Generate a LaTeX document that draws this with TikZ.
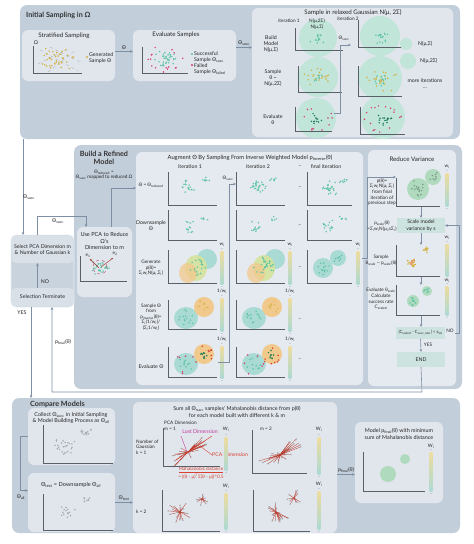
\documentclass[tikz,border=0pt]{standalone}
\usepackage{fontspec}
\setmainfont{Lato}
\usetikzlibrary{fit,calc,arrows.meta}
\definecolor{panelC}{HTML}{C3CEDB}
\definecolor{innerC}{HTML}{E1E6ED}
\definecolor{inner2C}{HTML}{E5EAF0}
\definecolor{connC}{HTML}{7F8FA3}
\definecolor{axisC}{HTML}{5A6068}
\definecolor{gaussC}{HTML}{C2E5DA}
\definecolor{ydotC}{HTML}{D2B23E}
\definecolor{tdotC}{HTML}{5EC4A5}
\definecolor{pdotC}{HTML}{D63C72}
\definecolor{gdotC}{HTML}{1E7E57}
\definecolor{greyC}{HTML}{A7ABB1}
\definecolor{redC}{HTML}{D8412F}
\definecolor{orC}{HTML}{F2C98C}
\definecolor{ygC}{HTML}{D6E39C}
\definecolor{teC}{HTML}{A9DAD3}
\definecolor{scaleC}{HTML}{CDE3E0}
\definecolor{barY}{HTML}{EEDC9E}
\definecolor{barT}{HTML}{ADD9D2}
\definecolor{greenC}{HTML}{AFDABE}
\definecolor{magC}{HTML}{C0379A}
\definecolor{selC}{HTML}{D9E0E8}
\definecolor{selOuter}{HTML}{C9D3DE}
\newcommand{\sbs}[1]{\textsubscript{#1}}
% cx cy sx sy n color
\newcommand{\dotcloud}[6]{\foreach \k in {1,...,#5}{\fill[#6] ({#1+#3*(rand+rand)/2},{#2+#4*(rand+rand)/2}) circle (0.85pt);}}
\newcommand{\dotring}[6]{\foreach \k in {1,...,#5}{\pgfmathsetmacro\ang{360*rnd}\pgfmathsetmacro\rr{0.65+0.35*rnd}\fill[#6] ({#1+#3*\rr*cos(\ang)},{#2+#4*\rr*sin(\ang)}) circle (0.85pt);}}
% cx cy n L W angle
\newcommand{\dotburst}[6]{\foreach \k in {1,...,#3}{\pgfmathsetmacro\uu{#4*rand}\pgfmathsetmacro\vv{#5*rand}\pgfmathsetmacro\qx{#1+\uu*cos(#6)-\vv*sin(#6)}\pgfmathsetmacro\qy{#2-\uu*sin(#6)-\vv*cos(#6)}\draw[redl] (#1,#2) -- (\qx,\qy); \fill[greyC] (\qx,\qy) circle (0.75pt);}}
\newcommand{\wbar}[3]{\shade[top color=barY,bottom color=barT] ({#1-1.4},#2) rectangle ({#1+1.4},#3); \fill[black!55] (#1,{#2-2.5}) circle (0.35pt); \fill[black!55] (#1,{#3+2.5}) circle (0.35pt);}
\tikzset{
 panel/.style={fill=panelC, rounded corners=7pt, inner sep=0pt, outer sep=0pt},
 ibox/.style={fill=innerC, rounded corners=6pt, inner sep=0pt, outer sep=0pt},
 ibox2/.style={fill=inner2C, rounded corners=6pt, inner sep=0pt, outer sep=0pt},
 sbox/.style={fill=scaleC, inner sep=0pt, outer sep=0pt},
 axisL/.style={draw=axisC, line width=0.5pt},
 conn/.style={draw=connC, line width=0.6pt, -{Stealth[length=3pt,width=2.6pt]}},
 tx/.style={font=\fontsize{5.2}{6.1}\selectfont, align=center, inner sep=0pt, text=black!85},
 txs/.style={font=\fontsize{4.7}{5.6}\selectfont, align=center, inner sep=0pt, text=black!85},
 bt/.style={font=\fontsize{6.2}{7.2}\selectfont, align=center, inner sep=0pt, text=black!85},
 ptitle/.style={font=\fontsize{7.2}{8.4}\selectfont\bfseries, align=center, inner sep=0pt, text=black!80},
 redl/.style={draw=redC!85!black, line width=0.3pt},
}
\begin{document}
\begin{tikzpicture}[x=1pt,y=-1pt]
\pgfmathsetseed{42}
\useasboundingbox (0,0) rectangle (474,544);
\fill[white] (0,0) rectangle (474,544);

% ================= TOP PANEL =================
\node[panel, fit={(20,5) (460,139)}] (P1) {};
\node[ptitle, anchor=west] (P1t) at (26,15) {Initial Sampling in Ω};
% Stratified
\node[ibox, fit={(22,30) (115,81)}] (A) {};
\node[bt] (At) at (64,36) {Stratified Sampling};
\node[tx] (Aom) at (36,43) {Ω};
\draw[dashed, greyC, line width=0.3pt] (40,50) -- (78,71) (50,47) -- (80,62) (38,64) -- (70,48) (48,72) -- (76,50);
\dotcloud{57}{59}{18}{12}{40}{ydotC}
\draw[axisL] (33,46) -- (33,73) -- (82,73);
\fill[ydotC] (87,57) circle (1.1pt);
\node[tx, anchor=west, align=left] (Al) at (89,58) {Generated\\Sample Θ};
% Evaluate
\node[ibox, fit={(133,30) (236,81)}] (B) {};
\node[bt] (Bt) at (176,35) {Evaluate Samples};
\dotcloud{166}{59}{12}{9}{35}{tdotC}
\dotring{164}{59}{20}{13}{16}{pdotC}
\draw[axisL] (142,47) -- (142,73) -- (188,73);
\fill[tdotC] (192,54) circle (1.1pt);
\node[tx, anchor=west, align=left] (Bl1) at (194,57) {Successful\\Sample Θ\sbs{succ}};
\fill[pdotC] (192,65) circle (1.1pt);
\node[tx, anchor=west, align=left] (Bl2) at (194,69) {Failed\\Sample Θ\sbs{failed}};
\draw[conn] ([yshift=4pt]A.east) -- ([yshift=4pt]A.east -| B.west) node[tx, midway, above=1.5pt] (lTh) {Θ};
% Relaxed Gaussian
\node[ibox, fit={(252,8) (453,137)}] (C) {};
\draw[conn] ([yshift=8pt]B.east) -- ([yshift=8pt]B.east -| C.west) node[tx, midway, above=1.5pt] (lTs) {Θ\sbs{succ}};
\node[bt] (Ct) at (353,13) {Sample in relaxed Gaussian N(μ, 2Σ)};
\fill[gaussC] (318,38) circle (19pt);
\fill[gaussC] (318,77) circle (20pt);
\fill[gaussC] (316,118) circle (20pt);
\fill[gaussC] (380,36) circle (20pt);
\fill[gaussC] (380,78) circle (22pt);
\fill[gaussC] (383,117) circle (22pt);
\node[txs] (Ci1) at (289,21) {iteration 1};
\node[txs] (Cn) at (317,24) {N(μ,2Σ)\\N(μ,Σ)};
\node[txs] (Ci2) at (348,19) {iteration 2};
\node[tx] (Cr1) at (271,44) {Build\\Model\\N(μ,Σ)};
\node[tx] (Cr2) at (273,78) {Sample\\θ \textasciitilde\\N(μ,2Σ)};
\node[tx] (Cr3) at (273,120) {Evaluate\\θ};
\dotcloud{318}{38}{9}{6}{14}{tdotC}
\dotcloud{318}{78}{15}{12}{20}{ydotC}
\dotcloud{318}{78}{7}{6}{8}{tdotC}
\dotcloud{316}{119}{8}{7}{12}{gdotC}
\dotring{316}{119}{17}{13}{12}{pdotC}
\dotcloud{381}{37}{10}{7}{16}{tdotC}
\dotcloud{380}{79}{17}{13}{24}{ydotC}
\dotcloud{380}{80}{9}{7}{12}{tdotC}
\dotcloud{383}{119}{10}{8}{16}{gdotC}
\dotring{383}{119}{20}{15}{16}{pdotC}
\draw[axisL] (295,28) -- (295,50) -- (343,50);
\draw[axisL] (298,66) -- (298,92) -- (342,92);
\draw[axisL] (295,107) -- (295,131) -- (332,131);
\draw[axisL] (358,20) -- (358,47) -- (402,47);
\draw[axisL] (358,66) -- (358,96) -- (402,96);
\draw[axisL] (360,107) -- (360,134) -- (405,134);
\coordinate (cs1) at (334,113);
\coordinate (cs2) at (351,45);
\draw[conn] (cs1) -| (340,45) -- (cs2);
\node[txs] (lCs) at (344,38) {Θ\sbs{succ}};
\fill[gaussC] (406,44) circle (6pt);
\node[tx, anchor=west] (Lg1) at (418,44) {N(μ,Σ)};
\fill[gaussC] (408,61) circle (8pt);
\node[tx, anchor=west] (Lg2) at (420,61) {N(μ,2Σ)};
\node[tx] (Lg3) at (425,84) {more iterations\\...};

% ================= MIDDLE PANEL =================
\node[panel, fit={(74,145) (462,389)}] (P2) {};
\node[ptitle] (P2t) at (104,158) {Build a Refined\\Model};
\node[txs] (P2s) at (104,175) {Θ\sbs{reduced} =\\Θ\sbs{succ} mapped to reduced Ω};
\node[ibox2, fit={(136,152) (363,385)}] (Aug) {};
\node[ibox2, fit={(368,150) (456,386)}] (Red) {};
\node[bt, font=\fontsize{5.8}{6.8}\selectfont] (Augt) at (250,158) {Augment Θ By Sampling From Inverse Weighted Model p\sbs{inverse}(θ)};

% Select box
\node[fill=selOuter, draw=white!70!panelC, line width=0.8pt, rounded corners=5pt, inner sep=0pt, outer sep=0pt, fit={(11,235) (74,307)}] (Sel) {};
\node[fill=selC, rounded corners=4pt, inner sep=0pt, outer sep=0pt, fit={(11.5,235.5) (73.5,263)}] (Sel1) {};
\node[tx] (Sel1t) at (Sel1.center) {Select PCA Dimension m\\\& Number of Gaussian k};
\node[fill=selC, rounded corners=4pt, inner sep=0pt, outer sep=0pt, fit={(11.5,288) (73.5,306)}] (Sel2) {};
\node[tx] (Sel2t) at (Sel2.center) {Selection Terminate};
\draw[conn] ([xshift=-5pt]Sel2.north) -- ([xshift=-5pt]Sel1.south);
\node[tx] (lNO) at (45,282) {NO};

% PCA box
\node[ibox, fit={(77,227) (132,297)}] (PCA) {};
\node[bt, font=\fontsize{5.6}{6.6}\selectfont] (PCAt) at (104.5,241) {Use PCA to Reduce\\Ω's\\Dimension to m};
\dotcloud{101}{268}{11}{7}{26}{tdotC}
\draw[pdotC!80!black, line width=0.35pt, dashed] (100,267) circle (7pt);
\draw[-{Stealth[length=2pt]}, redC!70!black, line width=0.45pt] (99,268) -- (90,259);
\draw[-{Stealth[length=2pt]}, redC!70!black, line width=0.45pt] (101,267) -- (113,258);
\node[txs] (e1) at (88,256) {e\sbs{1}};
\node[txs] (e2) at (115,254) {e\sbs{2}};
\draw[axisL] (80,256) -- (80,281) -- (127,281);

% connectors on the left
\coordinate (c1) at (23,139);
\draw[conn] (c1) -- (c1 |- Sel.north);
\node[tx] (lS1) at (29,197) {Θ\sbs{succ}};
\coordinate (c2) at (86,216);
\draw[conn] ([xshift=-5pt]Sel.north) |- (c2) -- (c2 |- PCA.north);
\node[tx] (lS2) at (58,221) {Θ\sbs{succ}};
\coordinate (g1) at (136,188);
\draw[conn] ([xshift=7pt]PCA.north) |- (g1);

% Augment internals
\node[tx] (H1) at (190,167) {iteration 1};
\node[tx] (H2) at (258,167) {iteration 2};
\node[tx] (H3) at (300,167) {–};
\node[tx] (H4) at (326,167) {final iteration};
\node[txs] (R1) at (151,185) {Θ = Θ\sbs{reduced}};
\node[tx] (R2) at (151,226) {Downsample\\Θ};
\node[txs] (R3) at (151,268) {Generate\\p(θ)=\\Σ\sbs{i}w\sbs{i}N(μ\sbs{i},Σ\sbs{i})};
\node[txs] (R4) at (151,317) {Sample Θ\\from\\p\sbs{inverse}(θ)=\\Σ\sbs{i}(1/w\sbs{i})/\\(Σ\sbs{i}1/w\sbs{i})};
\node[tx] (R5) at (151,367) {Evaluate Θ};
\foreach \o/\nn in {0/18,68/28}{
 \dotcloud{190+\o}{187}{9}{8}{\nn}{tdotC}
 \dotcloud{206+\o}{179}{5}{3}{7}{tdotC}
 \dotcloud{188+\o}{227}{7}{7}{12}{tdotC}
 \dotcloud{205+\o}{219}{4}{3}{5}{tdotC}
 \fill[teC] ({207+\o},259) ellipse (10pt and 10pt);
 \fill[ygC, opacity=0.9] ({196+\o},268) ellipse (11pt and 13pt);
 \fill[orC, opacity=0.75] ({188+\o},273) ellipse (9pt and 10pt);
 \dotcloud{197+\o}{267}{12}{12}{\nn}{tdotC}
 \fill[teC] ({186+\o},318) ellipse (12pt and 11pt);
 \fill[orC] ({204+\o},307) ellipse (10pt and 10pt);
 \dotcloud{186+\o}{318}{10}{9}{14}{tdotC}
 \dotcloud{204+\o}{307}{8}{8}{10}{ydotC!80!orC}
 \fill[teC] ({186+\o},364) ellipse (12pt and 11pt);
 \fill[orC] ({204+\o},354) ellipse (10pt and 10pt);
 \dotcloud{186+\o}{364}{9}{8}{10}{tdotC}
 \dotcloud{203+\o}{355}{6}{6}{9}{gdotC}
 \dotring{203+\o}{355}{10}{10}{8}{redC}
 \dotring{186+\o}{364}{12}{11}{6}{pdotC}
}
\foreach \xa/\xb in {168/217,236/285}{
 \draw[axisL] (\xa,172) -- (\xa,205) -- (\xb,205);
 \draw[axisL] (\xa,210) -- (\xa,240) -- (\xb,240);
 \draw[axisL] (\xa,250) -- (\xa,283) -- (\xb,283);
 \draw[axisL] (\xa,300) -- (\xa,329) -- (\xb,329);
 \draw[axisL] (\xa,347) -- (\xa,377) -- (\xb,377);
}
\dotcloud{329}{188}{9}{8}{24}{tdotC}
\dotcloud{344}{180}{5}{3}{8}{tdotC}
\dotcloud{328}{227}{8}{7}{14}{tdotC}
\dotcloud{343}{219}{4}{3}{6}{tdotC}
\fill[teC] (323,268) circle (10pt);
\fill[teC] (338,258) circle (8pt);
\dotcloud{323}{268}{8}{8}{14}{tdotC}
\dotcloud{338}{258}{6}{6}{8}{tdotC}
\draw[axisL] (307,172) -- (307,205) -- (352,205);
\draw[axisL] (307,210) -- (307,240) -- (352,240);
\draw[axisL] (307,250) -- (307,283) -- (352,283);
\foreach \bx in {222,290}{
 \wbar{\bx}{251}{284}
 \wbar{\bx}{298}{331}
 \wbar{\bx}{346}{378}
}
\node[txs] (wA1) at (222,245) {w\sbs{i}};
\node[txs] (wA2) at (222,291) {1/w\sbs{i}};
\node[txs] (wA3) at (222,339) {1/w\sbs{i}};
\node[txs] (wB1) at (290,245) {w\sbs{i}};
\node[txs] (wB2) at (290,291) {1/w\sbs{i}};
\node[txs] (wB3) at (290,339) {1/w\sbs{i}};
\wbar{358}{251}{284}
\node[txs] (wC1) at (358,245) {w\sbs{i}};
\foreach \yy in {188,226,268,320,360}{\node[tx] (d\yy) at (300,\yy) {–};}
\coordinate (as1) at (218,362);
\coordinate (as2) at (236,184);
\draw[conn] (as1) -| (229,184) -- (as2);
\node[txs] (lS3) at (228,178) {Θ\sbs{succ}};

% Reduce variance
\node[bt] (Redt) at (412,159) {Reduce Variance};
\fill[greenC] (418,189) circle (11pt);
\fill[greenC] (433,177) circle (8pt);
\dotcloud{418}{189}{9}{9}{16}{greenC!70!black}
\dotcloud{433}{177}{6}{6}{8}{greenC!70!black}
\draw[axisL] (396,178) -- (396,206) -- (440,206);
\coordinate (rv1) at (362,258);
\coordinate (rv2) at (396,177);
\draw[conn] (rv1) -| (367,177) -- (rv2);
\node[txs] (Rp) at (382,192) {p(θ)=\\Σ\sbs{i}w\sbs{i}N(μ\sbs{i},Σ\sbs{i})\\from final\\iteration of\\previous step};
\wbar{447}{173}{206}
\node[txs] (wR1) at (447,167) {w\sbs{i}};
\node[sbox, fit={(397,218) (445,233)}] (Sc) {};
\node[tx] (Sct) at (Sc.center) {Scale model\\variance by s};
\node[txs] (Rps) at (382,226) {p\sbs{scale}(θ)\\=Σ\sbs{i}w\sbs{i}N(μ\sbs{i},sΣ\sbs{i})};
\coordinate (ra1) at (421,207);
\draw[conn] (ra1) -- (ra1 |- Sc.north);
\dotcloud{412}{262}{6}{6}{22}{ydotC}
\dotcloud{412}{262}{3}{3}{8}{orC!60!redC}
\dotcloud{426}{250}{4}{4}{12}{ydotC}
\draw[axisL] (396,245) -- (396,276) -- (440,276);
\coordinate (ra2) at (421,245);
\draw[conn] (Sc.south) -- (ra2);
\node[txs] (Rs) at (381,260) {Sample\\θ\sbs{scale} \textasciitilde\ p\sbs{scale}(θ)};
\wbar{447}{244}{276}
\node[txs] (wR2) at (447,238) {w\sbs{i}};
\coordinate (ra3) at (421,277);
\coordinate (ra4) at (421,285);
\draw[conn] (ra3) -- (ra4);
\fill[greenC] (413,301) circle (6pt);
\fill[greenC] (427,291) circle (5pt);
\dotcloud{413}{301}{5}{5}{10}{tdotC}
\dotcloud{427}{291}{4}{4}{6}{tdotC}
\draw[axisL] (396,285) -- (396,315) -- (440,315);
\node[txs] (Re) at (381,299) {Evaluate θ\sbs{scale}\\Calculate\\success rate\\C\sbs{scaled}};
\wbar{447}{286}{315}
\node[txs] (wR3) at (447,281) {w\sbs{i}};
\node[sbox, fit={(396,327) (445,339)}] (Cond) {};
\node[tx, font=\fontsize{4.3}{5}\selectfont] (Condt) at (Cond.center) {|C\sbs{scaled} - C\sbs{succ\_rate}| < ε\sbs{tol}};
\coordinate (ra5) at (421,316);
\draw[conn] (ra5) -- (ra5 |- Cond.north);
\node[txs] (lNO2) at (450,331) {NO};
\coordinate (no1) at (455,333);
\draw[conn] (no1) -| (459,225.5) -- (Sc.east);
\node[sbox, fit={(397,352) (445,367)}] (END) {};
\node[tx] (ENDt) at (END.center) {END};
\draw[conn] (Cond.south) -- (END.north);
\node[txs] (lYES2) at (428,345) {YES};

% ================= BOTTOM PANEL =================
\node[panel, fit={(12,398) (460,533)}] (P3) {};
\node[ptitle, anchor=west] (P3t) at (30,404) {Compare Models};
\draw[conn] ([xshift=-11.5pt]Sel.south) -- ([xshift=-11.5pt]Sel.south |- P3.north);
\node[tx] (lYES) at (22,313) {YES};
\coordinate (pf1) at (422,392);
\draw[conn] (END.south) -- (pf1) -| ([xshift=9.5pt]Sel.south);
\node[tx] (lPf) at (63,342) {p\sbs{final}(θ)};

\node[ibox, fit={(28,408) (115,465)}] (Col) {};
\node[tx, font=\fontsize{5.4}{6.3}\selectfont] (Colt) at (71,418) {Collect Θ\sbs{succ} in Initial Sampling\\\& Model Building Process as Θ\sbs{all}};
\dotcloud{65}{446}{11}{9}{26}{greyC}
\dotcloud{86}{431}{7}{5}{14}{greyC}
\draw[axisL] (43,425) -- (43,463) -- (113,463);
\node[ibox, fit={(28,473) (115,532)}] (Test) {};
\node[tx, font=\fontsize{5.6}{6.5}\selectfont] (Testt) at (71,485) {Θ\sbs{test} = Downsample Θ\sbs{all}};
\dotcloud{66}{512}{10}{8}{14}{greyC}
\dotcloud{86}{500}{6}{4}{7}{greyC}
\draw[axisL] (43,494) -- (43,530) -- (113,530);
\draw[conn] (Col.west) -- ++(-8,0) |- ([yshift=12pt]Test.west);
\node[tx] (lAll) at (21,497) {Θ\sbs{all}};

\node[ibox, fit={(133,402) (337,533)}] (Sum) {};
\draw[conn] (Test.east) -- (Test.east -| Sum.west) node[tx, midway, above=2pt] (lTest) {Θ\sbs{test}};
\node[tx, font=\fontsize{5.4}{6.3}\selectfont] (Sumt) at (237,412) {Sum  all Θ\sbs{succ} samples' Mahalanobis distance from p(θ)\\for each model built with different k \& m};
\node[txs, anchor=west, align=left] (Spca) at (164,426) {PCA Dimension\\m = 1};
\node[txs] (Sm2) at (266,429) {m = 2};
\node[txs, anchor=west, align=left] (Sk1) at (136,447) {Number of\\Gaussian\\k = 1};
\node[txs, anchor=west] (Sk2) at (136,512) {k = 2};
% plot 1,1
\dotburst{188}{452}{30}{21}{7}{32}
\draw[redC, line width=0.5pt] (176,460) -- (212,436);
\draw[magC, line width=0.4pt] (181,436) -- (187,452);
\draw[redC, line width=0.4pt] (200,446) -- (212,455);
\node[tx, text=magC] (Lost) at (200,432) {Lost Dimension};
\node[tx, text=redC, anchor=west] (PcaD) at (212,455) {PCA Dimension};
\node[txs, text=redC] (Mah) at (201,473) {\underline{Mahalanobis distance}\\= ((θ - μ)\textsuperscript{T}Σ(θ - μ))\textasciicircum 0.5};
\draw[axisL] (163,428) -- (163,466) -- (220,466);
\wbar{226}{437}{470}
\node[txs] (W11) at (226,429) {W\sbs{i}};
% plot 1,2
\dotburst{280}{455}{30}{23}{7}{32}
\draw[axisL] (252,430) -- (252,473) -- (307,473);
\wbar{319}{437}{474}
\node[txs] (W12) at (319,429) {W\sbs{i}};
% plot 2,1
\dotburst{180}{512}{20}{11}{11}{20}
\dotburst{202}{499}{12}{7}{6}{20}
\draw[axisL] (162,490) -- (162,531) -- (220,531);
\wbar{226}{493}{529}
\node[txs] (W21) at (226,486) {W\sbs{i}};
% plot 2,2
\dotburst{276}{512}{20}{11}{11}{20}
\dotburst{294}{498}{12}{7}{6}{20}
\draw[axisL] (253,490) -- (253,531) -- (310,531);
\wbar{319}{491}{529}
\node[txs] (W22) at (319,484) {W\sbs{i}};

\node[ibox, fit={(355,422) (443,503)}] (Mod) {};
\draw[conn] ([yshift=-7pt]Sum.east) -- ([yshift=-7pt]Sum.east -| Mod.west) node[tx, midway, above=2pt] (lPf2) {p\sbs{final}(θ)};
\node[tx, font=\fontsize{5.4}{6.3}\selectfont] (Modt) at (399,434) {Model p\sbs{final}(θ) with minimum\\sum of Mahalanobis distance};
\fill[greenC] (388,474) circle (8pt);
\fill[greenC] (405,459) circle (5pt);
\draw[axisL] (363,452) -- (363,491) -- (425,491);
\wbar{431}{452}{491}
\node[txs] (Wm) at (431,446) {W\sbs{i}};
\end{tikzpicture}
\end{document}
